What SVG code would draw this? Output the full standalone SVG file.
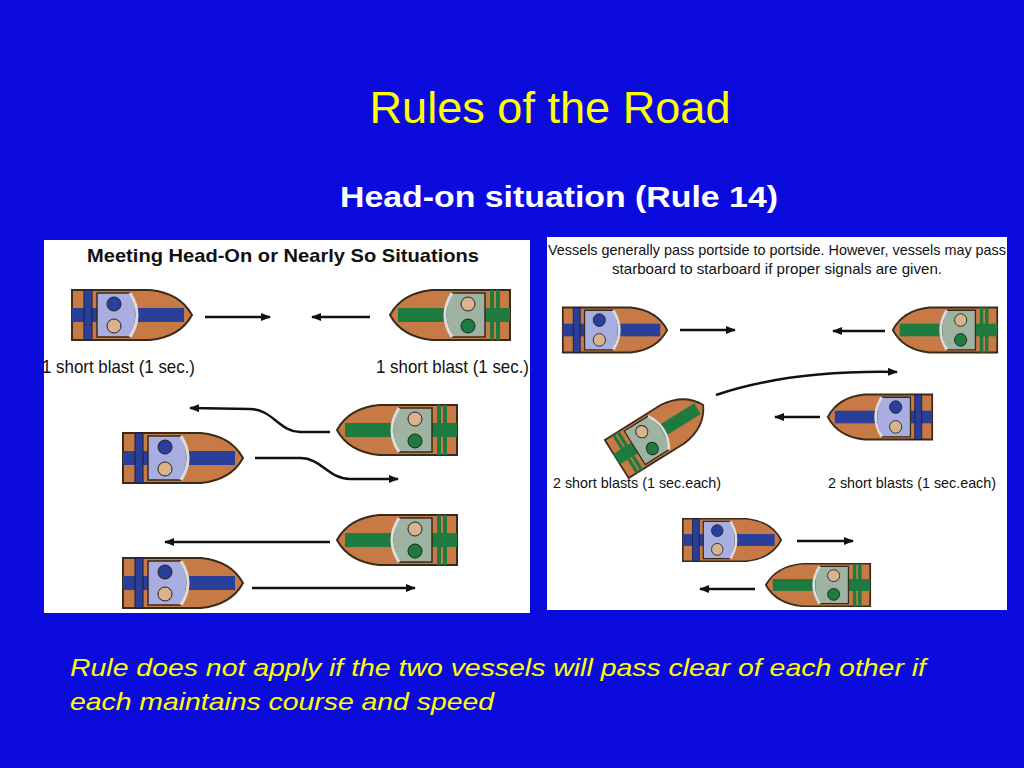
<svg xmlns="http://www.w3.org/2000/svg" xmlns:xlink="http://www.w3.org/1999/xlink" width="1024" height="768" viewBox="0 0 1024 768">
<style>
.ln{fill:none;stroke:#111;stroke-width:2.5}
.lbl{font-family:"Liberation Sans Narrow","Liberation Sans",sans-serif;font-size:19px;fill:#111}
.hd{font-family:"Liberation Sans Narrow","Liberation Sans",sans-serif;font-size:15px;fill:#111}
</style>
<defs>
<marker id="ah" markerWidth="10" markerHeight="8" refX="9" refY="4" orient="auto" markerUnits="userSpaceOnUse"><path d="M0,0 L10,4 L0,8 Z" fill="#111"/></marker>
<g id="boatB">
<path d="M-60,-25 L18,-25 Q48,-22 60,0 Q48,22 18,25 L-60,25 Z" fill="#c77a45" stroke="#3a2a1a" stroke-width="2"/>
<rect x="-60" y="-7" width="112" height="14" fill="#2a3f9a"/>
<path d="M-35,-22 L-2,-22 Q10,0 -2,22 L-35,22 Z" fill="#a9aee0" stroke="#3a2a1a" stroke-width="1.5"/>
<path d="M-2,-22 Q12,0 -2,22" fill="none" stroke="#ddd" stroke-width="3"/>
<rect x="-48" y="-25" width="8" height="50" fill="#2a3f9a" stroke="#1a1a3a"/>
<circle cx="-18" cy="-11" r="7" fill="#2a3f9a" stroke="#222"/>
<circle cx="-18" cy="11" r="7" fill="#d9b38c" stroke="#222"/>
</g>
<g id="boatG">
<path d="M-60,-25 L18,-25 Q48,-22 60,0 Q48,22 18,25 L-60,25 Z" fill="#c77a45" stroke="#3a2a1a" stroke-width="2"/>
<rect x="-60" y="-7" width="112" height="14" fill="#1f7a3f"/>
<path d="M-35,-22 L-2,-22 Q10,0 -2,22 L-35,22 Z" fill="#9fb3a3" stroke="#3a2a1a" stroke-width="1.5"/>
<path d="M-2,-22 Q12,0 -2,22" fill="none" stroke="#ddd" stroke-width="3"/>
<rect x="-50" y="-25" width="4" height="50" fill="#1f7a3f"/>
<rect x="-44" y="-25" width="4" height="50" fill="#1f7a3f"/>
<circle cx="-18" cy="-11" r="7" fill="#d9b38c" stroke="#222"/>
<circle cx="-18" cy="11" r="7" fill="#1f7a3f" stroke="#222"/>
</g>
</defs>
<rect width="1024" height="768" fill="#0b0bdd"/>
<text x="550" y="123" text-anchor="middle" font-family="Liberation Sans, sans-serif" font-size="45" fill="#ffff00" textLength="361" lengthAdjust="spacingAndGlyphs">Rules of the Road</text>
<text x="559" y="207" text-anchor="middle" font-family="Liberation Sans, sans-serif" font-size="29" font-weight="bold" fill="#fff" textLength="438" lengthAdjust="spacingAndGlyphs">Head-on situation (Rule 14)</text>
<g id="left-panel">
<rect x="44" y="240" width="486" height="373" fill="#fff"/>
<text x="283" y="262" text-anchor="middle" class="lbl" font-weight="bold" textLength="392" lengthAdjust="spacingAndGlyphs" font-size="21">Meeting Head-On or Nearly So Situations</text>
<use xlink:href="#boatB" transform="translate(132,315)"/>
<use xlink:href="#boatG" transform="translate(450,315) scale(-1,1)"/>
<text x="42" y="373" class="lbl" textLength="153" lengthAdjust="spacingAndGlyphs">1 short blast (1 sec.)</text>
<text x="376" y="373" class="lbl" textLength="153" lengthAdjust="spacingAndGlyphs">1 short blast (1 sec.)</text>
<use xlink:href="#boatG" transform="translate(397,430) scale(-1,1)"/>
<use xlink:href="#boatB" transform="translate(183,458)"/>
<use xlink:href="#boatG" transform="translate(397,540) scale(-1,1)"/>
<use xlink:href="#boatB" transform="translate(183,583)"/>
</g>
<g id="right-panel">
<rect x="547" y="237" width="460" height="373" fill="#fff"/>
<text x="777" y="255" text-anchor="middle" class="hd" textLength="458" lengthAdjust="spacingAndGlyphs">Vessels generally pass portside to portside. However, vessels may pass</text>
<text x="777" y="274" text-anchor="middle" class="hd" textLength="330" lengthAdjust="spacingAndGlyphs">starboard to starboard if proper signals are given.</text>
<use xlink:href="#boatB" transform="translate(615,330) scale(0.87,0.9)"/>
<use xlink:href="#boatG" transform="translate(945,330) scale(-0.87,0.9)"/>
<use xlink:href="#boatG" transform="translate(660,432) rotate(-32) scale(0.85,0.9)"/>
<use xlink:href="#boatB" transform="translate(880,417) scale(-0.87,0.9)"/>
<text x="553" y="488" class="hd" font-size="18" textLength="168" lengthAdjust="spacingAndGlyphs">2 short blasts (1 sec.each)</text>
<text x="828" y="488" class="hd" font-size="18" textLength="168" lengthAdjust="spacingAndGlyphs">2 short blasts (1 sec.each)</text>
<use xlink:href="#boatB" transform="translate(732,540) scale(0.82,0.85)"/>
<use xlink:href="#boatG" transform="translate(818,585) scale(-0.87,0.85)"/>
</g>
<g id="connectors">
<path class="ln" marker-end="url(#ah)" d="M205,317 L270,317"/>
<path class="ln" marker-end="url(#ah)" d="M370,317 L312,317"/>
<path class="ln" marker-end="url(#ah)" d="M330,432 L300,432 C280,432 272,409 250,409 L190,408"/>
<path class="ln" marker-end="url(#ah)" d="M255,458 L300,458 C322,458 328,479 350,479 L398,479"/>
<path class="ln" marker-end="url(#ah)" d="M330,542 L165,542"/>
<path class="ln" marker-end="url(#ah)" d="M252,588 L415,588"/>
<path class="ln" marker-end="url(#ah)" d="M680,330 L735,330"/>
<path class="ln" marker-end="url(#ah)" d="M885,331 L833,331"/>
<path class="ln" marker-end="url(#ah)" d="M716,395 Q790,370 897,372"/>
<path class="ln" marker-end="url(#ah)" d="M820,417 L775,417"/>
<path class="ln" marker-end="url(#ah)" d="M797,541 L853,541"/>
<path class="ln" marker-end="url(#ah)" d="M755,589 L700,589"/>
</g>
<text x="70" y="676" font-family="Liberation Sans, sans-serif" font-size="24" font-style="italic" fill="#ffff00" textLength="856" lengthAdjust="spacingAndGlyphs">Rule does not apply if the two vessels will pass clear of each other if</text>
<text x="70" y="710" font-family="Liberation Sans, sans-serif" font-size="24" font-style="italic" fill="#ffff00" textLength="424" lengthAdjust="spacingAndGlyphs">each maintains course and speed</text>
</svg>
